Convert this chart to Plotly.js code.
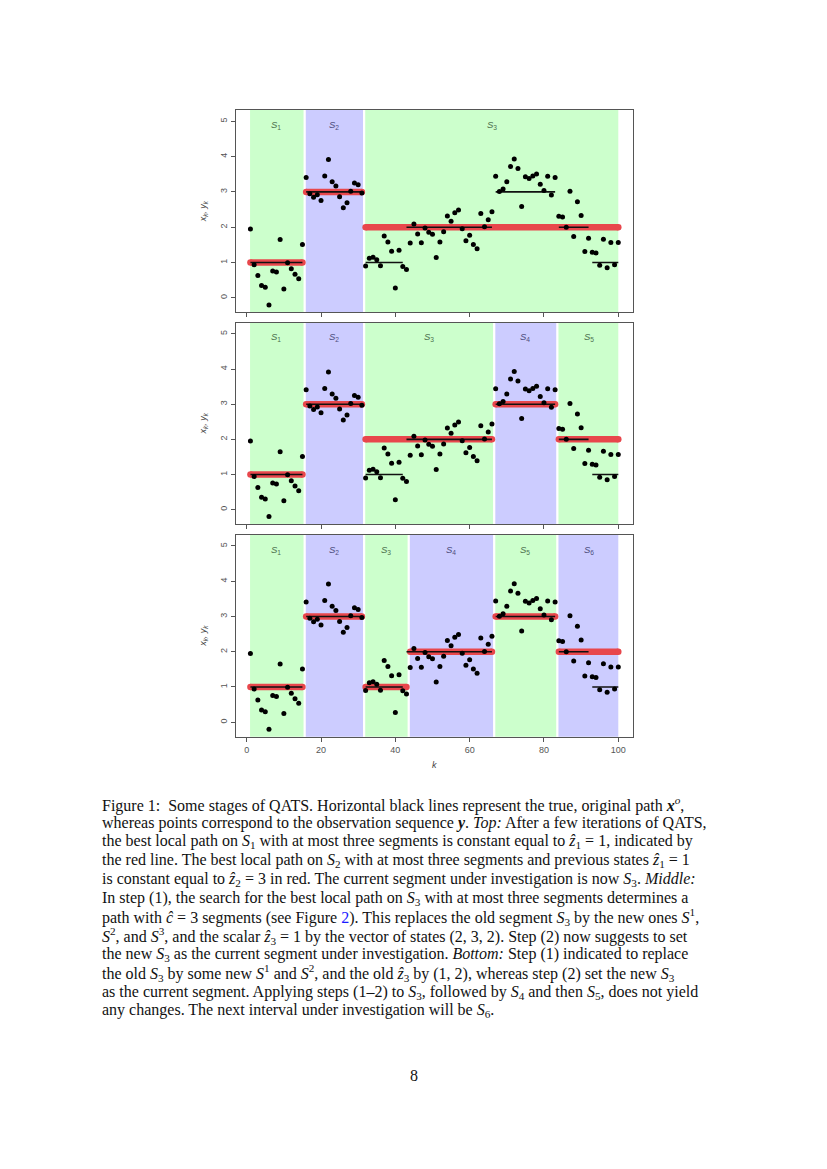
<!DOCTYPE html>
<html>
<head>
<meta charset="utf-8">
<script src="https://cdn.plot.ly/plotly-3.0.1.min.js"></script>
<style>
html,body{margin:0;padding:0;background:#fff;}
#chart{width:827px;height:1169px;}
</style>
</head>
<body>
<div id="chart"></div>
<script>
// ---- data ----
const k = Array.from({length: 100}, (_, i) => i + 1);
const yObs = [
  1.95, 0.94, 0.63, 0.35, 0.30, -0.20, 0.76, 0.73, 1.65, 0.25,
  0.99, 0.82, 0.67, 0.54, 1.51, 3.41, 2.95, 2.85, 2.92, 2.76,
  3.45, 3.92, 3.29, 3.17, 2.86, 2.55, 2.69, 3.02, 3.25, 3.20,
  2.97, 0.90, 1.12, 1.15, 1.08, 0.91, 1.75, 1.58, 1.32, 0.28,
  1.35, 0.89, 0.80, 1.55, 2.09, 1.81, 1.56, 1.98, 1.86, 1.80,
  1.14, 1.58, 1.87, 2.32, 2.17, 2.41, 2.49, 1.96, 1.62, 1.77,
  1.51, 1.39, 2.39, 2.01, 2.21, 2.44, 3.44, 3.01, 3.08, 3.29,
  3.72, 3.93, 3.66, 2.59, 3.43, 3.38, 3.45, 3.51, 3.22, 3.04,
  3.44, 2.91, 3.41, 2.31, 2.29, 2.00, 3.02, 1.74, 2.72, 2.33,
  1.31, 1.69, 1.29, 1.27, 0.92, 1.66, 0.85, 1.57, 0.94, 1.57
];
// true path x^o
const trueStarts = [1, 16, 32, 43, 67, 84, 93];
const trueEnds   = [15, 31, 42, 66, 83, 92, 100];
const trueLevels = [1, 3, 1, 2, 3, 2, 1];
// panel segmentations (S_j), estimated levels and shading
const topStarts = [1, 16, 32];
const topEnds   = [15, 31, 100];
const topLevels = [1, 3, 2];
const topShade  = ['g', 'b', 'g'];
const midStarts = [1, 16, 32, 67, 84];
const midEnds   = [15, 31, 66, 83, 100];
const midLevels = [1, 3, 2, 3, 2];
const midShade  = ['g', 'b', 'g', 'b', 'g'];
const botStarts = [1, 16, 32, 44, 67, 84];
const botEnds   = [15, 31, 43, 66, 83, 100];
const botLevels = [1, 3, 1, 2, 3, 2];
const botShade  = ['g', 'b', 'g', 'b', 'g', 'b'];
const xTicks = [0, 20, 40, 60, 80, 100];
const yTicks = [0, 1, 2, 3, 4, 5];

const captionLines = [
  'Figure 1:  Some stages of QATS. Horizontal black lines represent the true, original path <b><i>x</i></b><sup><i>o</i></sup>,',
  'whereas points correspond to the observation sequence <b><i>y</i></b>. <i>Top:</i> After a few iterations of QATS,',
  'the best local path on <i>S</i><sub>1</sub> with at most three segments is constant equal to <i>ẑ</i><sub>1</sub> = 1, indicated by',
  'the red line. The best local path on <i>S</i><sub>2</sub> with at most three segments and previous states <i>ẑ</i><sub>1</sub> = 1',
  'is constant equal to <i>ẑ</i><sub>2</sub> = 3 in red. The current segment under investigation is now <i>S</i><sub>3</sub>. <i>Middle:</i>',
  'In step (1), the search for the best local path on <i>S</i><sub>3</sub> with at most three segments determines a',
  'path with <i>ĉ</i> = 3 segments (see Figure <span style="color:#1a1aff">2</span>). This replaces the old segment <i>S</i><sub>3</sub> by the new ones <i>S</i><sup>1</sup>,',
  '<i>S</i><sup>2</sup>, and <i>S</i><sup>3</sup>, and the scalar <i>ẑ</i><sub>3</sub> = 1 by the vector of states (2, 3, 2). Step (2) now suggests to set',
  'the new <i>S</i><sub>3</sub> as the current segment under investigation. <i>Bottom:</i> Step (1) indicated to replace',
  'the old <i>S</i><sub>3</sub> by some new <i>S</i><sup>1</sup> and <i>S</i><sup>2</sup>, and the old <i>ẑ</i><sub>3</sub> by (1, 2), whereas step (2) set the new <i>S</i><sub>3</sub>',
  'as the current segment. Applying steps (1–2) to <i>S</i><sub>3</sub>, followed by <i>S</i><sub>4</sub> and then <i>S</i><sub>5</sub>, does not yield',
  'any changes. The next interval under investigation will be <i>S</i><sub>6</sub>.'
];
const pageNumber = '8';

// ---- styling ----
const W = 827, H = 1169;
const GREEN = '#ccffcc', BLUE = '#ccccff';
const GREEN_TXT = '#4d704d', BLUE_TXT = '#4d4d7d';
const RED = '#e8474c';
const AXCOL = '#555555';
const xDom = [235.7 / W, 633 / W];
const panelsPx = [[110, 312.3], [322.7, 524], [534.7, 736.7]];
const panels = [
  {starts: topStarts, ends: topEnds, levels: topLevels, shade: topShade},
  {starts: midStarts, ends: midEnds, levels: midLevels, shade: midShade},
  {starts: botStarts, ends: botEnds, levels: botLevels, shade: botShade}
];

const traces = [];
const shapes = [];
const annotations = [];
const layout = {
  width: W, height: H,
  margin: {l: 0, r: 0, t: 0, b: 0},
  paper_bgcolor: '#ffffff',
  plot_bgcolor: 'rgba(0,0,0,0)',
  showlegend: false,
  font: {family: 'Liberation Sans, Arial, sans-serif', color: '#444'}
};

panels.forEach((p, pi) => {
  const xa = pi === 0 ? 'x' : 'x' + (pi + 1);
  const ya = pi === 0 ? 'y' : 'y' + (pi + 1);
  const xKey = pi === 0 ? 'xaxis' : 'xaxis' + (pi + 1);
  const yKey = pi === 0 ? 'yaxis' : 'yaxis' + (pi + 1);
  const [pt, pb] = panelsPx[pi];
  layout[xKey] = {
    domain: xDom, anchor: ya, range: [-2.96, 103.96],
    showgrid: false, zeroline: false,
    showline: true, mirror: true, linecolor: AXCOL, linewidth: 1,
    ticks: 'outside', ticklen: 4, tickcolor: AXCOL, tickwidth: 1,
    tickvals: xTicks, ticktext: xTicks.map(String),
    showticklabels: pi === 2,
    tickfont: {size: 9, color: AXCOL, family: 'Liberation Sans, Arial, sans-serif'}
  };
  if (pi === 2) {
    layout[xKey].title = {text: '<i>k</i>', font: {size: 9, color: '#444'}, standoff: 8};
  }
  layout[yKey] = {
    domain: [1 - pb / H, 1 - pt / H], anchor: xa, range: [-0.41, 5.32],
    showgrid: false, zeroline: false,
    showline: true, mirror: true, linecolor: AXCOL, linewidth: 1,
    ticks: 'outside', ticklen: 4, tickcolor: AXCOL, tickwidth: 1,
    tickvals: yTicks, ticktext: yTicks.map(String), tickangle: -90,
    tickfont: {size: 9, color: AXCOL, family: 'Liberation Sans, Arial, sans-serif'},
    title: {text: '<i>x<sub>k</sub>, y<sub>k</sub></i>', font: {size: 9, color: '#444'}, standoff: 10}
  };

  // shaded segments
  p.starts.forEach((s, j) => {
    const e = p.ends[j];
    shapes.push({
      type: 'rect', layer: 'below', xref: xa, yref: ya + ' domain',
      x0: s - 0.1, x1: Math.min(e + 0.3, 100), y0: 0, y1: 1,
      fillcolor: p.shade[j] === 'g' ? GREEN : BLUE, line: {width: 0}
    });
    annotations.push({
      xref: xa, yref: ya, x: (s + e) / 2, y: 4.9, showarrow: false,
      text: '<i>S</i><sub>' + (j + 1) + '</sub>',
      font: {size: 9.5, color: p.shade[j] === 'g' ? GREEN_TXT : BLUE_TXT, family: 'Liberation Sans, Arial, sans-serif'}
    });
    // red estimated level
    traces.push({
      x: [s, e], y: [p.levels[j], p.levels[j]], xaxis: xa, yaxis: ya,
      type: 'scatter', mode: 'lines+markers', hoverinfo: 'skip',
      line: {color: RED, width: 6.5},
      marker: {color: RED, size: 6.5, line: {width: 0}}
    });
  });

  // true path
  trueStarts.forEach((s, j) => {
    traces.push({
      x: [s, trueEnds[j]], y: [trueLevels[j], trueLevels[j]], xaxis: xa, yaxis: ya,
      type: 'scatter', mode: 'lines', hoverinfo: 'skip',
      line: {color: '#111', width: 1.6}
    });
  });

  // observations
  traces.push({
    x: k, y: yObs, xaxis: xa, yaxis: ya, type: 'scatter', mode: 'markers',
    marker: {color: '#000', size: 5}
  });
});

// caption
captionLines.forEach((t, i) => {
  annotations.push({
    xref: 'paper', yref: 'paper', x: 100 / W, y: 1 - (804 + i * 18.8) / H,
    xanchor: 'left', yanchor: 'middle', showarrow: false, align: 'left',
    text: t, font: {family: 'Liberation Serif, Times New Roman, serif', size: 16, color: '#111'}
  });
});
annotations.push({
  xref: 'paper', yref: 'paper', x: 414 / W, y: 1 - 1075 / H,
  xanchor: 'center', yanchor: 'middle', showarrow: false,
  text: pageNumber, font: {family: 'Liberation Serif, Times New Roman, serif', size: 16, color: '#111'}
});

layout.shapes = shapes;
layout.annotations = annotations;

Plotly.newPlot('chart', traces, layout, {staticPlot: true, displayModeBar: false});
</script>
</body>
</html>
